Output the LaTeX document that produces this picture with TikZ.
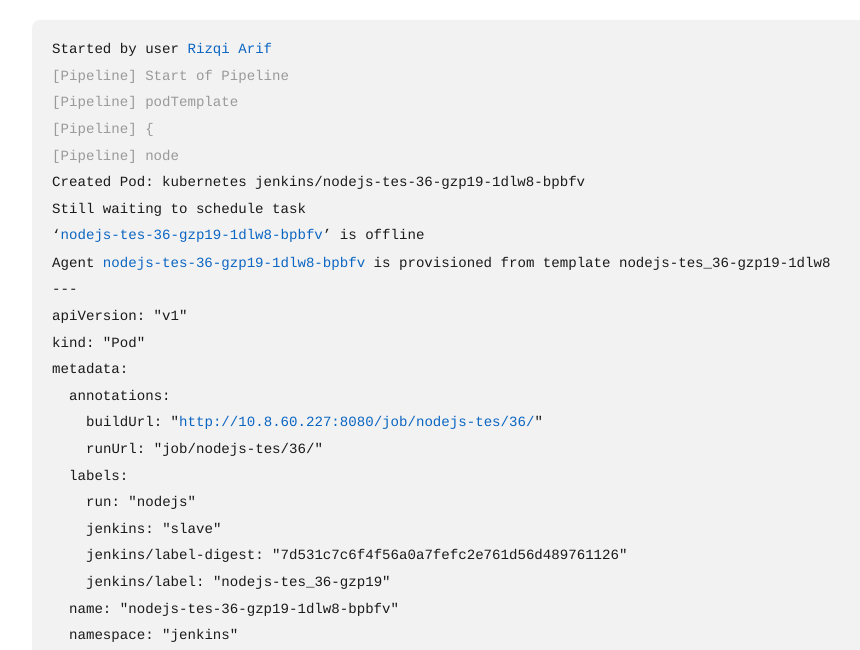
\documentclass[tikz,border=0pt]{standalone}
\usepackage{fontspec}
\setmonofont{Liberation Mono}
\definecolor{bg}{HTML}{F2F2F2}
\definecolor{lnk}{HTML}{0B66C3}
\definecolor{dim}{HTML}{9A9A9A}
\definecolor{txt}{HTML}{1A1A1A}
\begin{document}
\begin{tikzpicture}[x=1pt,y=1pt,
  ln/.style={anchor=base west,inner sep=0,font=\ttfamily\fontsize{14.1}{16}\selectfont,text=txt}]
\useasboundingbox (0,0) rectangle (860,-650);
\fill[white] (0,0) rectangle (860,-650);
\fill[bg,rounded corners=8] (32,-20) rectangle (880,-680);
\def\cw{8.48}
\begin{scope}[yshift=-5pt]
\node[ln] (l1) at (52,-49) {Started by user \textcolor{lnk}{Rizqi Arif}};
\node[ln,text=dim] (l2) at (52,-76) {[Pipeline] Start of Pipeline};
\node[ln,text=dim] (l3) at (52,-102) {[Pipeline] podTemplate};
\node[ln,text=dim] (l4) at (52,-129) {[Pipeline] \{};
\node[ln,text=dim] (l5) at (52,-156) {[Pipeline] node};
\node[ln] (l6) at (52,-182) {Created Pod: kubernetes jenkins/nodejs-tes-36-gzp19-1dlw8-bpbfv};
\node[ln] (l7) at (52,-209) {Still waiting to schedule task};
\node[ln] (l8) at (52,-235) {‘\textcolor{lnk}{nodejs-tes-36-gzp19-1dlw8-bpbfv}’ is offline};
\node[ln] (l9) at (52,-262) {Agent \textcolor{lnk}{nodejs-tes-36-gzp19-1dlw8-bpbfv} is provisioned from template nodejs-tes\_36-gzp19-1dlw8};
\node[ln] (l10) at (52,-288) {-{}-{}-};
\node[ln] (l11) at (52,-315) {apiVersion: "v1"};
\node[ln] (l12) at (52,-342) {kind: "Pod"};
\node[ln] (l13) at (52,-368) {metadata:};
\node[ln] (l14) at (52+2*\cw,-395) {annotations:};
\node[ln] (l15) at (52+4*\cw,-421) {buildUrl: "\textcolor{lnk}{http://10.8.60.227:8080/job/nodejs-tes/36/}"};
\node[ln] (l16) at (52+4*\cw,-448) {runUrl: "job/nodejs-tes/36/"};
\node[ln] (l17) at (52+2*\cw,-475) {labels:};
\node[ln] (l18) at (52+4*\cw,-501) {run: "nodejs"};
\node[ln] (l19) at (52+4*\cw,-528) {jenkins: "slave"};
\node[ln] (l20) at (52+4*\cw,-554) {jenkins/label-digest: "7d531c7c6f4f56a0a7fefc2e761d56d489761126"};
\node[ln] (l21) at (52+4*\cw,-581) {jenkins/label: "nodejs-tes\_36-gzp19"};
\node[ln] (l22) at (52+2*\cw,-608) {name: "nodejs-tes-36-gzp19-1dlw8-bpbfv"};
\node[ln] (l23) at (52+2*\cw,-634) {namespace: "jenkins"};
\end{scope}
\end{tikzpicture}
\end{document}
